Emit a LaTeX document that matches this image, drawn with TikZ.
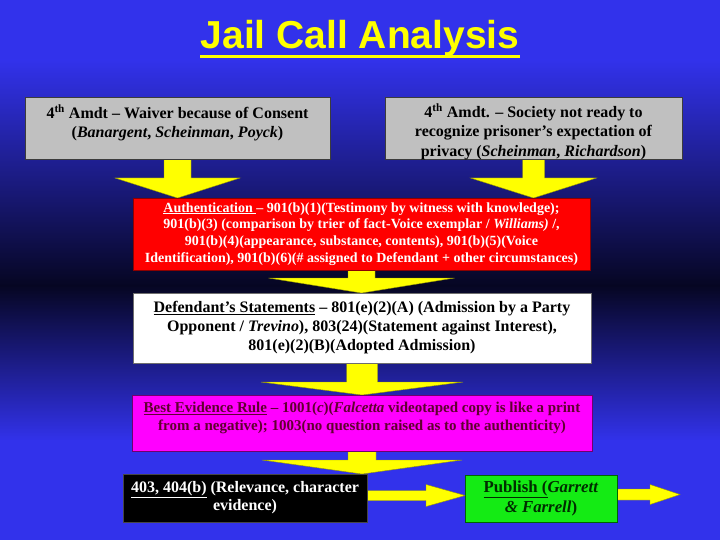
\documentclass[tikz,border=0pt]{standalone}
\usepackage{fontspec}
\setmainfont{Liberation Serif}
\newfontfamily\titlefont{Liberation Sans}
\usetikzlibrary{calc}
\definecolor{bgblue}{RGB}{50,50,235}
\definecolor{bgdark}{RGB}{6,6,34}
\definecolor{titleyellow}{RGB}{255,255,0}
\definecolor{arrowyellow}{RGB}{255,255,0}
\definecolor{arrowedge}{RGB}{150,150,0}
\definecolor{boxgray}{RGB}{192,192,192}
\definecolor{graybd}{RGB}{60,60,60}
\definecolor{boxred}{RGB}{255,0,0}
\definecolor{redbd}{RGB}{140,0,0}
\definecolor{whitebd}{RGB}{110,110,110}
\definecolor{boxmag}{RGB}{255,0,255}
\definecolor{magbd}{RGB}{110,0,110}
\definecolor{magtext}{RGB}{96,0,48}
\definecolor{blackbd}{RGB}{70,70,70}
\definecolor{boxgreen}{RGB}{20,235,20}
\definecolor{greenbd}{RGB}{0,100,0}
\definecolor{greentext}{RGB}{0,45,0}
\pgfdeclarelayer{back}
\pgfdeclarelayer{mid}
\pgfsetlayers{back,mid,main}
\newcommand\boxtext[4]{\parbox[c][#2][c]{#1}{\centering #4\par\vspace{#3}}}
% vertical block arrow: from, to, shaft half width, head half width, head length
\newcommand\varrow[5]{\path[blockarrow] let \p1=(#1), \p2=(#2) in
  (\x1-#3,\y1) -- (\x1+#3,\y1) -- (\x1+#3,\y2+#5) -- (\x1+#4,\y2+#5) -- (\x1,\y2)
  -- (\x1-#4,\y2+#5) -- (\x1-#3,\y2+#5) -- cycle;}
% horizontal block arrow: from, to, shaft half height, head half height, head length, y offset
\newcommand\harrow[6]{\path[blockarrow] let \p1=(#1), \p2=(#2) in
  (\x1,\y1+#6+#3) -- (\x2-#5,\y1+#6+#3) -- (\x2-#5,\y1+#6+#4) -- (\x2,\y1+#6)
  -- (\x2-#5,\y1+#6-#4) -- (\x2-#5,\y1+#6-#3) -- (\x1,\y1+#6-#3) -- cycle;}
\begin{document}
\begin{tikzpicture}[x=1pt,y=-1pt,
  box/.style={inner sep=0pt, outer sep=0pt, line width=0.8pt},
  blockarrow/.style={fill=arrowyellow, draw=arrowedge, line width=0.4pt},
  titletext/.style={inner sep=0pt, text=titleyellow, font=\titlefont\bfseries\fontsize{39}{46}\selectfont}]
\useasboundingbox (0,0) rectangle (720,540);
\begin{pgfonlayer}{back}
  \fill[bgblue] (0,0) rectangle (720,61);
  \fill[top color=bgblue, bottom color=bgdark] (0,60) rectangle (720,286);
  \fill[top color=bgdark, bottom color=bgblue] (0,285) rectangle (720,441);
  \fill[bgblue] (0,440) rectangle (720,540);
\end{pgfonlayer}

\node[titletext, anchor=base] (title) at (360,49) {Jail Call Analysis};
\draw[titleyellow, line width=3pt] ($(title.base west)+(0,8)$) -- ($(title.base east)+(0,8)$);

\node[box, draw=graybd, fill=boxgray, font=\bfseries\fontsize{16}{19}\selectfont] (g1) at (177.5,128)
  {\boxtext{305pt}{62pt}{10pt}{4\textsuperscript{th} Amdt – Waiver because of Consent\\(\textit{Banargent}, \textit{Scheinman}, \textit{Poyck})}};
\node[box, draw=graybd, fill=boxgray, font=\bfseries\fontsize{16}{19.5}\selectfont] (g2) at (533.5,128)
  {\boxtext{297pt}{62pt}{-7pt}{4\textsuperscript{th} Amdt. – Society not ready to\\recognize prisoner’s expectation of\\privacy (\textit{Scheinman}, \textit{Richardson})}};
\node[box, draw=redbd, fill=boxred, text=white, font=\bfseries\fontsize{14}{16.8}\selectfont] (red) at (361.5,234)
  {\boxtext{457pt}{72pt}{0pt}{\underline{Authentication\ }– 901(b)(1)(Testimony by witness with knowledge);\\901(b)(3) (comparison by trier of fact-Voice exemplar / \textit{Williams)} /,\\901(b)(4)(appearance, substance, contents), 901(b)(5)(Voice\\Identification), 901(b)(6)(\# assigned to Defendant + other circumstances)}};
\node[box, draw=whitebd, fill=white, text=black, font=\bfseries\fontsize{16}{19}\selectfont] (wht) at (362,328)
  {\boxtext{458pt}{70pt}{0pt}{\underline{Defendant’s Statements} – 801(e)(2)(A) (Admission by a Party\\Opponent / \textit{Trevino}), 803(24)(Statement against Interest),\\801(e)(2)(B)(Adopted Admission)}};
\node[box, draw=magbd, fill=boxmag, text=magtext, font=\bfseries\fontsize{15}{18}\selectfont] (mag) at (362,423)
  {\boxtext{460pt}{56pt}{10pt}{\underline{Best Evidence Rule} – 1001(\textit{c})(\textit{Falcetta} videotaped copy is like a print\\from a negative); 1003(no question raised as to the authenticity)}};
\node[box, draw=blackbd, fill=black, text=white, font=\bfseries\fontsize{16}{18}\selectfont] (blk) at (245,498)
  {\boxtext{244pt}{48pt}{0pt}{\underline{403, 404(b)} (Relevance, character\\evidence)}};
\node[box, draw=greenbd, fill=boxgreen, text=greentext, font=\bfseries\fontsize{16.8}{20}\selectfont] (grn) at (541,498.5)
  {\boxtext{152pt}{47pt}{0pt}{\underline{Publish (}\textit{Garrett}\\\textit{\& Farrell})}};
\coordinate (out) at (680,494);

\begin{pgfonlayer}{mid}
  \varrow{g1.south}{red.north}{13.5pt}{62.5pt}{20pt}
  \varrow{g2.south}{red.north}{11pt}{63pt}{20pt}
  \varrow{red.south}{wht.north}{13.5pt}{93pt}{15pt}
  \varrow{wht.south}{mag.north}{15.5pt}{101pt}{13pt}
  \varrow{mag.south}{blk.north}{14pt}{100pt}{14pt}
  \harrow{blk.east}{grn.west}{5pt}{11pt}{39pt}{2.5pt}
  \harrow{grn.east}{out}{5.5pt}{10pt}{30pt}{4pt}
\end{pgfonlayer}
\end{tikzpicture}
\end{document}
